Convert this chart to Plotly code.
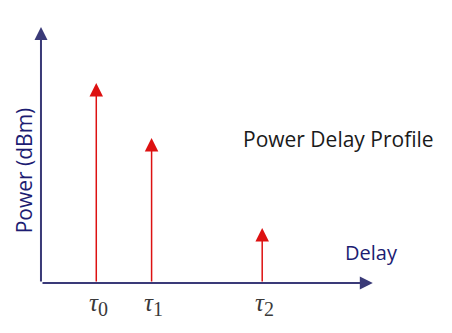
import plotly.graph_objects as go

# Data
delays = [1, 2, 4]                 # tau_0, tau_1, tau_2 (relative delay units)
powers = [4.0, 2.9, 1.1]           # relative power (dBm scale, arbitrary)
tick_labels = ["τ", "τ", "τ"]
tick_subs = ["0", "1", "2"]
x_axis_end = 6.0
y_axis_end = 5.12

NAVY = "#1c1c72"
AXIS = "#3a3a78"
RED = "#dd1111"

fig = go.Figure()
# invisible trace to fix axes
fig.add_trace(go.Scatter(x=delays, y=powers, mode="markers",
                         marker=dict(opacity=0), hoverinfo="skip", showlegend=False))

ann = []
# axes arrows
ann.append(dict(x=x_axis_end, y=0, ax=0, ay=0, xref="x", yref="y", axref="x", ayref="y",
                showarrow=True, arrowhead=2, arrowsize=1.3, arrowwidth=2,
                arrowcolor=AXIS, text=""))
ann.append(dict(x=0, y=y_axis_end, ax=0, ay=0, xref="x", yref="y", axref="x", ayref="y",
                showarrow=True, arrowhead=2, arrowsize=1.3, arrowwidth=2,
                arrowcolor=AXIS, text=""))
# spikes
for d, p, t, s in zip(delays, powers, tick_labels, tick_subs):
    ann.append(dict(x=d, y=p, ax=d, ay=0, xref="x", yref="y", axref="x", ayref="y",
                    showarrow=True, arrowhead=2, arrowsize=1.8, arrowwidth=1.5,
                    arrowcolor=RED, text=""))
    ann.append(dict(x=d, y=0, xref="x", yref="y", showarrow=False,
                    text="<i>" + t + "</i><sub><span style='font-size:20px'>" + s + "</span></sub>",
                    yanchor="top", yshift=-4, xshift=2,
                    font=dict(family="Liberation Serif", size=25, color="#3a3a3a")))

ann.append(dict(x=-0.31, y=2.25, xref="x", yref="y", showarrow=False,
                text="Power (dBm)", textangle=-90,
                font=dict(family="Open Sans", size=21, color=NAVY)))
ann.append(dict(x=5.38, y=2.88, xref="x", yref="y", showarrow=False,
                text="Power Delay Profile",
                font=dict(family="Open Sans", size=21, color="#1a1a1a")))
ann.append(dict(x=5.98, y=0.62, xref="x", yref="y", showarrow=False,
                text="Delay",
                font=dict(family="Open Sans", size=20, color=NAVY)))

fig.update_layout(
    width=452, height=333,
    margin=dict(l=0, r=0, t=0, b=0),
    paper_bgcolor="white", plot_bgcolor="white",
    xaxis=dict(range=[-0.741, 7.432], visible=False, fixedrange=True),
    yaxis=dict(range=[-1.0, 5.66], visible=False, fixedrange=True),
    annotations=ann,
    showlegend=False,
)
fig.write_html("out.html")
